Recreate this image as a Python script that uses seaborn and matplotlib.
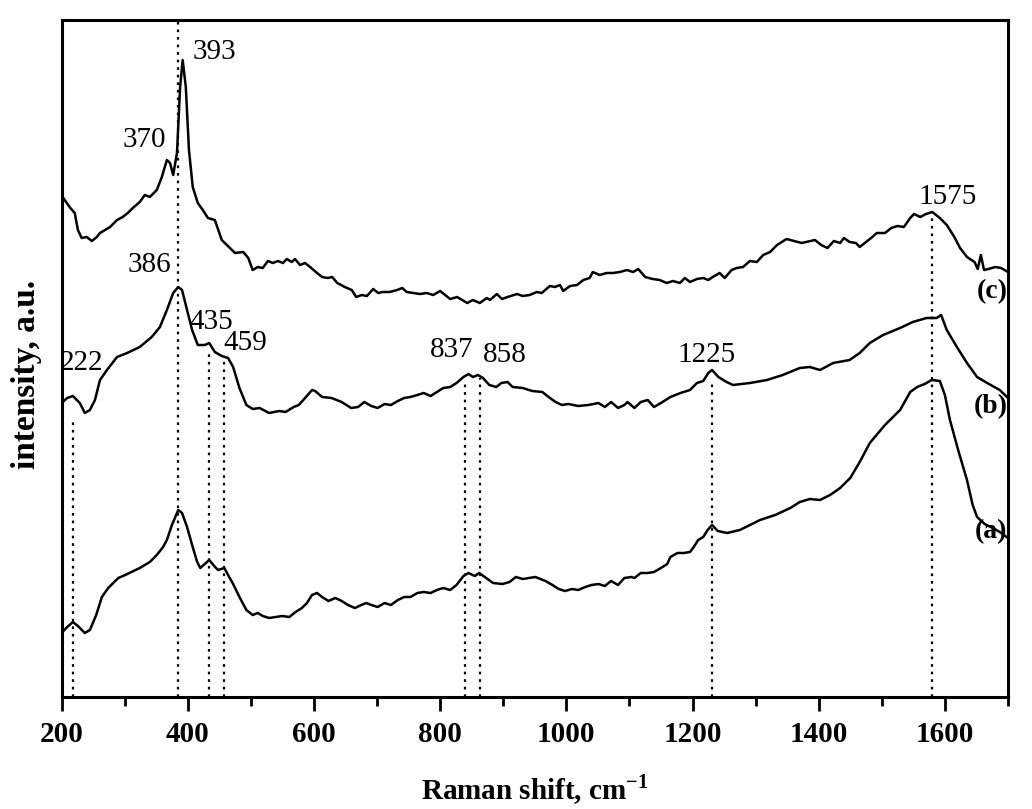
import numpy as np
import pandas as pd
import matplotlib
matplotlib.use("Agg")
import matplotlib.pyplot as plt
import seaborn as sns

# ---------------- data ----------------
# spectrum (c) - top
c_shift = [200, 205, 214, 221, 226, 232, 240, 248, 256, 261, 277, 288, 297, 305, 313, 324, 332, 340,
           351, 359, 367, 372, 377, 383, 388, 392, 397, 402, 408, 416, 424, 432, 443, 454,
           467, 475, 488, 496, 503, 511, 519, 527, 535, 543, 551, 557, 565, 570, 578, 586, 594,
           605, 613, 622, 629, 637, 649, 660, 667, 676, 684, 694, 702, 709, 720, 732, 740, 747,
           757, 768, 779, 789, 800, 808, 816, 827, 835, 843, 852, 863, 874, 879, 890, 898, 907,
           922, 931, 942, 953, 961, 974, 982, 990, 995, 1006, 1017, 1027, 1037, 1042, 1053, 1064,
           1074, 1085, 1096, 1106, 1114, 1125, 1137, 1148, 1159, 1169, 1180, 1188, 1196, 1207,
           1217, 1225, 1232, 1243, 1251, 1262, 1270, 1280, 1291, 1302, 1312, 1323, 1334, 1349,
           1373, 1394, 1404, 1414, 1424, 1434, 1440, 1449, 1459, 1465, 1475, 1485, 1492, 1505,
           1515, 1525, 1535, 1545, 1551, 1561, 1570, 1580, 1592, 1603, 1615, 1624, 1635, 1647,
           1652, 1657, 1662, 1669, 1680, 1689, 1700]
c_int = [502, 497, 489, 484, 467, 459, 460, 456, 460, 464, 470, 477, 480, 484, 489, 495, 502, 500,
         507, 520, 537, 534, 522, 544, 610, 637, 610, 547, 510, 494, 487, 479, 477, 457,
         449, 444, 445, 439, 427, 430, 429, 436, 434, 436, 434, 438, 435, 438, 432, 434, 430,
         424, 420, 419, 420, 414, 410, 407, 400, 402, 401, 408, 404, 405, 405, 407, 409, 405,
         404, 403, 404, 402, 406, 402, 398, 400, 397, 394, 397, 394, 399, 397, 403, 398, 400,
         403, 401, 402, 405, 404, 411, 410, 412, 406, 411, 412, 417, 419, 425, 422, 424,
         424, 425, 427, 425, 428, 420, 418, 417, 414, 416, 414, 419, 415, 418,
         419, 417, 420, 424, 419, 427, 429, 430, 436, 435, 442, 445, 452, 458,
         454, 457, 452, 449, 456, 454, 459, 455, 454, 450, 455, 460, 464, 464,
         469, 471, 470, 479, 483, 480, 483, 485, 479, 472, 460, 449, 440, 435,
         428, 442, 427, 428, 430, 429, 425]

# spectrum (b) - middle
b_shift = [200, 209, 218, 229, 237, 245, 253, 261, 272, 288, 304, 324, 343, 356, 367, 377, 385, 391,
           399, 407, 416, 427, 434, 443, 454, 464, 472, 482, 493, 503, 514, 529, 545, 555, 568,
           576, 586, 597, 602, 613, 628, 644, 659, 670, 680, 691, 701, 712, 722, 733, 743, 753,
           764, 774, 785, 795, 805, 816, 826, 837, 845, 852, 860, 868, 878, 889, 897, 907, 915,
           931, 946, 962, 972, 983, 993, 1003, 1019, 1035, 1051, 1061, 1071, 1082, 1092, 1097,
           1108, 1118, 1129, 1139, 1150, 1165, 1181, 1196, 1207, 1217, 1225, 1231, 1241, 1254,
           1264, 1291, 1318, 1343, 1370, 1386, 1402, 1423, 1449, 1465, 1481, 1502, 1529, 1549,
           1571, 1587, 1594, 1603, 1619, 1635, 1651, 1667, 1687, 1700]
b_int = [294, 299, 301, 294, 284, 287, 297, 317, 327, 340, 344, 350, 360, 370, 387, 404, 410, 407,
         387, 367, 352, 352, 354, 345, 341, 339, 330, 309, 292, 288, 289, 284, 286, 285, 290,
         292, 299, 307, 306, 300, 299, 295, 289, 290, 295, 291, 289, 293, 292, 296, 299, 300,
         302, 304, 301, 305, 309, 310, 314, 320, 323, 320, 322, 319, 312, 310, 314, 315, 310,
         309, 306, 305, 300, 295, 292, 293, 291, 292, 294, 290, 295, 289, 292, 295,
         289, 295, 297, 290, 294, 300, 304, 307, 314, 316, 324, 327, 320, 315,
         312, 314, 317, 322, 329, 330, 327, 334, 337, 344, 354, 362, 369, 375,
         379, 379, 382, 367, 350, 334, 320, 314, 307, 299]

# spectrum (a) - bottom
a_shift = [200, 209, 218, 226, 237, 245, 255, 264, 274, 290, 301, 324, 340, 351, 361, 367, 375, 385,
           391, 399, 407, 415, 420, 427, 434, 442, 448, 458, 464, 472, 482, 493, 503, 511, 519,
           529, 540, 550, 561, 571, 581, 589, 597, 605, 613, 623, 634, 644, 654, 665, 675, 683,
           691, 701, 712, 722, 733, 743, 753, 764, 774, 785, 795, 805, 816, 826, 837, 845, 855,
           862, 873, 884, 899, 910, 920, 931, 941, 951, 967, 978, 988, 998, 1009, 1019, 1030,
           1040, 1051, 1061, 1071, 1082, 1092, 1103, 1108, 1118, 1129, 1139, 1150, 1160, 1165,
           1176, 1186, 1196, 1202, 1209, 1217, 1224, 1231, 1240, 1255, 1275, 1307, 1331, 1355,
           1370, 1386, 1402, 1418, 1434, 1450, 1465, 1481, 1505, 1529, 1545, 1556, 1568, 1579,
           1592, 1600, 1608, 1621, 1635, 1644, 1651, 1663, 1676, 1687, 1700]
a_int = [64, 70, 75, 71, 64, 67, 82, 100, 109, 119, 122, 129, 135, 142, 150, 157, 172, 187,
         184, 170, 152, 135, 129, 133, 137, 131, 127, 129, 122, 113, 100, 87, 82, 84, 81,
         79, 80, 81, 80, 85, 89, 94, 102, 104, 100, 96, 99, 96, 92, 89, 92, 94,
         92, 90, 94, 92, 97, 100, 100, 104, 105, 104, 107, 109, 107, 112, 121, 124, 121,
         124, 119, 114, 113, 115, 120, 118, 119, 120, 116, 112, 108, 106, 108, 107, 110,
         112, 113, 111, 116, 112, 119, 120, 119, 124, 124, 125, 129, 133, 140,
         144, 144, 145, 150, 157, 160, 167, 172, 166, 164, 167, 177, 182, 189,
         195, 198, 197, 202, 209, 219, 235, 254, 272, 287, 305, 310, 313, 317,
         316, 302, 277, 247, 217, 192, 180, 173, 169, 165, 159]

# dotted peak markers: position and top of line
peak_pos = [218, 385, 434, 458, 840, 863, 1231, 1580]
peak_top = [277, 677, 344, 339, 317, 319, 314, 480]

# peak annotations
ann_text = ["393", "370", "386", "435", "459", "222", "837", "858", "1225", "1575"]
ann_x = [443, 332, 340, 437, 492, 232, 819, 903, 1223, 1605]
ann_y = [645, 557, 432, 375, 354, 334, 347, 342, 342, 500]

series_names = ["(a)", "(b)", "(c)"]
series_label_y = [165, 290, 405]

# ---------------- plotting ----------------
sns.set_style("ticks")
plt.rcParams["font.family"] = ["Liberation Serif", "DejaVu Serif"]
plt.rcParams["mathtext.fontset"] = "custom"
plt.rcParams["mathtext.rm"] = "Liberation Serif"
plt.rcParams["mathtext.bf"] = "Liberation Serif:bold"
for key in ["text.color", "axes.labelcolor", "xtick.color", "ytick.color", "axes.edgecolor"]:
    plt.rcParams[key] = "black"

fig = plt.figure(figsize=(10.32, 8.09), dpi=100)
ax = fig.add_axes([61.5 / 1032, 1 - 697 / 809, (1008 - 61.5) / 1032, (697 - 20) / 809])

frames = []
for name, xs, ys in [("(a)", a_shift, a_int), ("(b)", b_shift, b_int), ("(c)", c_shift, c_int)]:
    frames.append(pd.DataFrame({"shift": xs, "intensity": ys, "sample": name}))
df = pd.concat(frames, ignore_index=True)

sns.lineplot(data=df, x="shift", y="intensity", units="sample", estimator=None,
             color="black", lw=1.8, ax=ax, legend=False, sort=False)

ax.vlines(peak_pos, 0, peak_top, colors="black", linestyles=(0, (1.2, 2.2)), lw=1.6)

for t, x, y in zip(ann_text, ann_x, ann_y):
    ax.text(x, y, t, ha="center", va="center", fontsize=21, color="black")

for t, y in zip(series_names, series_label_y):
    ax.text(1699, y, t, ha="right", va="center", fontsize=20, fontweight="bold", color="black")

ax.set_xlim(200, 1700)
ax.set_ylim(0, 677)
ax.set_xticks(np.arange(200, 1701, 200))
ax.set_xticks(np.arange(300, 1701, 200), minor=True)
ax.set_yticks([])
ax.tick_params(axis="x", which="major", direction="out", length=10, width=2, pad=7,
               labelsize=21, colors="black")
ax.tick_params(axis="x", which="minor", direction="out", length=6.5, width=2, colors="black")
for lbl in ax.get_xticklabels():
    lbl.set_fontweight("bold")
for sp in ax.spines.values():
    sp.set_visible(True)
    sp.set_linewidth(2.2)
    sp.set_color("black")

ax.set_xlabel(r"Raman shift, cm$^{\mathbf{-1}}$", fontsize=21, fontweight="bold", labelpad=18,
              color="black")
ax.set_ylabel("intensity, a.u.", fontsize=24, fontweight="bold", color="black")
ax.yaxis.set_label_coords(-0.021, 0.476)

fig.savefig("out.png", dpi=100)
